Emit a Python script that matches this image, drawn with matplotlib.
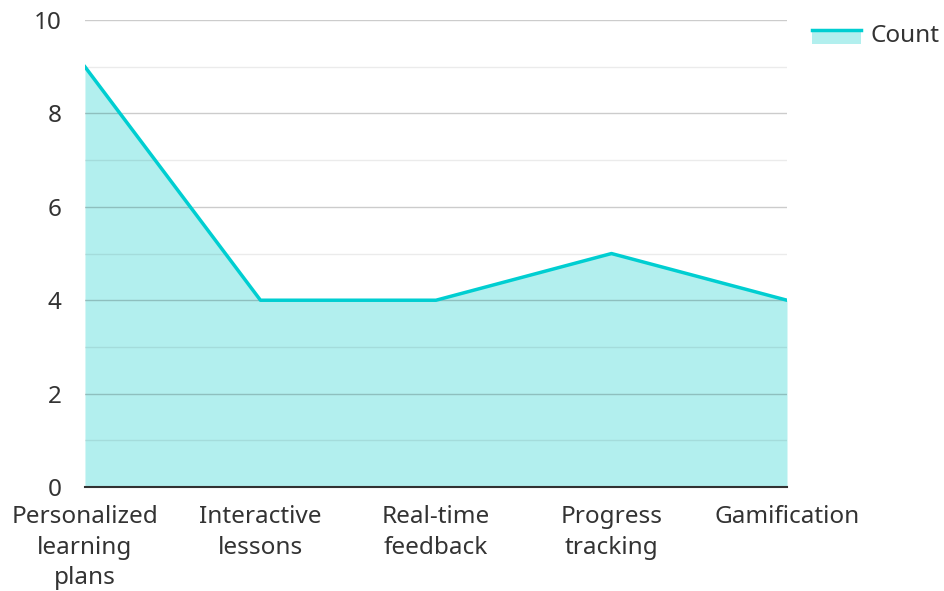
import matplotlib.pyplot as plt
from matplotlib.patches import Rectangle
from matplotlib.lines import Line2D
import numpy as np

# === Data ===
categories = ["Personalized\nlearning\nplans", "Interactive\nlessons", "Real-time\nfeedback",
              "Progress\ntracking", "Gamification"]
counts = [9, 4, 4, 5, 4]
series_name = "Count"

line_color = "#00CED1"
fill_color = "#B2EFEE"

plt.rcParams['font.family'] = ['Noto Sans', 'DejaVu Sans']


# legend key: line on top of a filled block, like the area swatch
class AreaHandler:
    def legend_artist(self, legend, orig_handle, fontsize, handlebox):
        x0, y0 = handlebox.xdescent, handlebox.ydescent
        w, h = handlebox.width, handlebox.height
        top = y0 + h * 0.68
        bottom = y0 - h * 0.12
        rect = Rectangle((x0, bottom), w, top - bottom,
                         facecolor=fill_color, edgecolor='none',
                         transform=handlebox.get_transform())
        line = Line2D([x0, x0 + w], [top, top], color=line_color, linewidth=2.5,
                      transform=handlebox.get_transform())
        handlebox.add_artist(rect)
        handlebox.add_artist(line)
        return rect


fig = plt.figure(figsize=(9.45, 5.91), dpi=100)
ax = fig.add_axes([0.0899, 0.176, 0.7429, 0.790])

x = np.arange(len(categories))
ax.fill_between(x, counts, 0, color=fill_color, zorder=1, linewidth=0)
ax.plot(x, counts, color=line_color, linewidth=2.5, zorder=3)

ax.set_xlim(0, len(categories) - 1)
ax.set_ylim(0, 10)
ax.set_yticks(range(0, 11, 2))
ax.set_yticks(range(1, 11, 2), minor=True)
ax.grid(axis='y', which='major', color='#000000', alpha=0.2, linewidth=1, zorder=2)
ax.grid(axis='y', which='minor', color='#000000', alpha=0.08, linewidth=1, zorder=2)
ax.set_axisbelow(False)

ax.set_xticks(x)
ax.set_xticklabels(categories, linespacing=1.36)
ax.tick_params(axis='both', which='both', length=0, labelsize=17.5, colors='#333333')
ax.tick_params(axis='x', pad=13)
ax.tick_params(axis='y', pad=17)

for s in ['top', 'right', 'left']:
    ax.spines[s].set_visible(False)
ax.spines['bottom'].set_color('#333333')
ax.spines['bottom'].set_linewidth(1.5)

fig.legend([object()], [series_name], loc='upper left', bbox_to_anchor=(0.836, 0.997),
           frameon=False, fontsize=17.5, handlelength=2.0, handletextpad=0.4,
           handler_map={object: AreaHandler()}, labelcolor='#333333')

fig.savefig("out.png", dpi=100)
